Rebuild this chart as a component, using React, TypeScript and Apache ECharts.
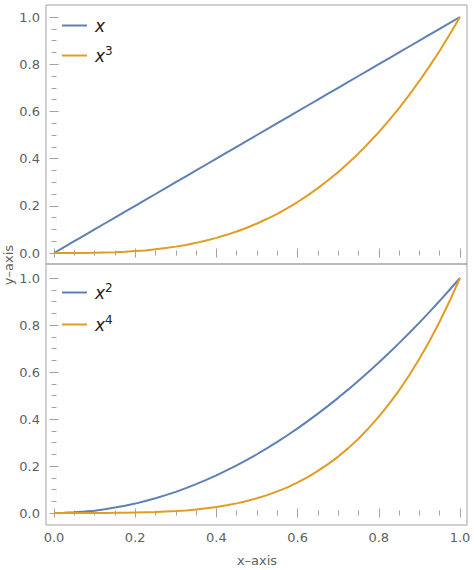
import { useEffect, useRef } from "react";
import * as echarts from "echarts";

// sample positions along x, shared by every curve
const xs = [
  0, 0.025, 0.05, 0.075, 0.1, 0.125, 0.15, 0.175, 0.2, 0.225, 0.25,
  0.275, 0.3, 0.325, 0.35, 0.375, 0.4, 0.425, 0.45, 0.475, 0.5,
  0.525, 0.55, 0.575, 0.6, 0.625, 0.65, 0.675, 0.7, 0.725, 0.75,
  0.775, 0.8, 0.825, 0.85, 0.875, 0.9, 0.925, 0.95, 0.975, 1,
];

// values
const yLinear = [
  0, 0.025, 0.05, 0.075, 0.1, 0.125, 0.15, 0.175, 0.2, 0.225, 0.25,
  0.275, 0.3, 0.325, 0.35, 0.375, 0.4, 0.425, 0.45, 0.475, 0.5,
  0.525, 0.55, 0.575, 0.6, 0.625, 0.65, 0.675, 0.7, 0.725, 0.75,
  0.775, 0.8, 0.825, 0.85, 0.875, 0.9, 0.925, 0.95, 0.975, 1,
];
const ySquare = [
  0, 0.001, 0.003, 0.006, 0.01, 0.016, 0.023, 0.031, 0.04, 0.051, 0.063,
  0.076, 0.09, 0.106, 0.123, 0.141, 0.16, 0.181, 0.203, 0.226, 0.25,
  0.276, 0.303, 0.331, 0.36, 0.391, 0.423, 0.456, 0.49, 0.526, 0.563,
  0.601, 0.64, 0.681, 0.723, 0.766, 0.81, 0.856, 0.903, 0.951, 1,
];
const yCube = [
  0, 0, 0, 0, 0.001, 0.002, 0.003, 0.005, 0.008, 0.011, 0.016,
  0.021, 0.027, 0.034, 0.043, 0.053, 0.064, 0.077, 0.091, 0.107, 0.125,
  0.145, 0.166, 0.19, 0.216, 0.244, 0.275, 0.308, 0.343, 0.381, 0.422,
  0.466, 0.512, 0.562, 0.614, 0.67, 0.729, 0.792, 0.857, 0.927, 1,
];
const yQuart = [
  0, 0, 0, 0, 0, 0, 0.001, 0.001, 0.002, 0.003, 0.004,
  0.006, 0.008, 0.011, 0.015, 0.02, 0.026, 0.033, 0.041, 0.051, 0.063,
  0.076, 0.092, 0.109, 0.13, 0.153, 0.179, 0.208, 0.24, 0.276, 0.316,
  0.361, 0.41, 0.463, 0.522, 0.586, 0.656, 0.732, 0.815, 0.904, 1,
];

const topNames = ["x", "x3"];
const bottomNames = ["x2", "x4"];
const tickLabels = ["0.0", "0.2", "0.4", "0.6", "0.8", "1.0"];

const BLUE = "#5e81b5";
const ORANGE = "#e19c24";
const FRAME = "#a3a3a3";
const TEXT = "#5f5f5f";

const pairs = (ys: number[]) => xs.map((x, i) => [x, ys[i]]);

function frameAxis(gridIndex: number, position: string, offset: number, labels: boolean) {
  return {
    type: "value",
    gridIndex,
    position,
    offset,
    min: 0,
    max: 1,
    interval: 0.2,
    axisLine: { show: false },
    splitLine: { show: false },
    axisTick: { show: true, inside: true, length: 4.5, lineStyle: { color: FRAME } },
    minorTick: { show: true, splitNumber: 4, length: 2.5, lineStyle: { color: FRAME } },
    axisLabel: {
      show: labels,
      margin: 6,
      color: TEXT,
      fontSize: 13,
      fontFamily: "DejaVu Sans",
      formatter: (v: number) => tickLabels[Math.round(v / 0.2)] ?? "",
    },
  };
}

function legendFormat(name: string) {
  const power = name.slice(1);
  return power ? `{b|x}{s|${power}}` : "{b|x}";
}

export default function App() {
  const chartRef = useRef<HTMLDivElement>(null);

  useEffect(() => {
    if (!chartRef.current) return;
    const chart = echarts.init(chartRef.current, null, { renderer: "svg" });

    const legendRich = {
      b: { fontSize: 17, fontStyle: "italic", fontFamily: "DejaVu Sans", color: "#222", lineHeight: 20 },
      s: { fontSize: 12, fontFamily: "DejaVu Sans", color: "#222", padding: [0, 0, 9, 0], lineHeight: 20 },
    };
    const legendBase = {
      orient: "vertical",
      left: 57,
      icon: "rect",
      itemWidth: 25,
      itemHeight: 2,
      itemGap: 11,
      formatter: legendFormat,
      textStyle: { rich: legendRich, padding: [0, 0, 0, 3] },
    };

    const lineSeries = (name: string, ys: number[], color: string, axis: number) => ({
      type: "line",
      name,
      data: pairs(ys),
      xAxisIndex: axis,
      yAxisIndex: axis,
      symbol: "none",
      color,
      lineStyle: { color, width: 2 },
    });

    const hidden = (gridIndex: number) => ({ type: "value", gridIndex, show: false });

    const option = {
      animation: false,
      grid: [
        { left: 54, right: 14, top: 17, height: 236 },
        { left: 54, right: 14, top: 278, height: 235 },
        { left: 46, right: 7, top: 5, height: 259, show: true, borderColor: FRAME, borderWidth: 1, backgroundColor: "transparent" },
        { left: 46, right: 7, top: 264, height: 261, show: true, borderColor: FRAME, borderWidth: 1, backgroundColor: "transparent" },
      ],
      xAxis: [
        frameAxis(0, "bottom", 11, false),
        frameAxis(0, "top", 12, false),
        {
          ...frameAxis(1, "bottom", 12, true),
          name: "x–axis",
          nameLocation: "middle",
          nameGap: 29,
          nameTextStyle: { color: TEXT, fontSize: 13, fontFamily: "DejaVu Sans" },
        },
        frameAxis(1, "top", 14, false),
        hidden(2),
        hidden(3),
      ],
      yAxis: [
        frameAxis(0, "left", 8, true),
        frameAxis(0, "right", 7, false),
        frameAxis(1, "left", 8, true),
        frameAxis(1, "right", 7, false),
        hidden(2),
        hidden(3),
      ],
      legend: [
        { ...legendBase, top: 12, data: topNames },
        { ...legendBase, top: 277, data: bottomNames },
      ],
      graphic: [
        {
          type: "text",
          x: 8,
          y: 265,
          rotation: Math.PI / 2,
          style: {
            text: "y–axis",
            fill: TEXT,
            fontSize: 13,
            fontFamily: "DejaVu Sans",
            align: "center",
            verticalAlign: "middle",
          },
        },
      ],
      series: [
        lineSeries("x", yLinear, BLUE, 0),
        lineSeries("x3", yCube, ORANGE, 0),
        lineSeries("x2", ySquare, BLUE, 2),
        lineSeries("x4", yQuart, ORANGE, 2),
      ],
    };

    chart.setOption(option as echarts.EChartsOption);
    return () => chart.dispose();
  }, []);

  return (
    <div
      ref={chartRef}
      style={{ position: "fixed", left: 0, top: 0, width: 474, height: 570, background: "#fff" }}
    />
  );
}
